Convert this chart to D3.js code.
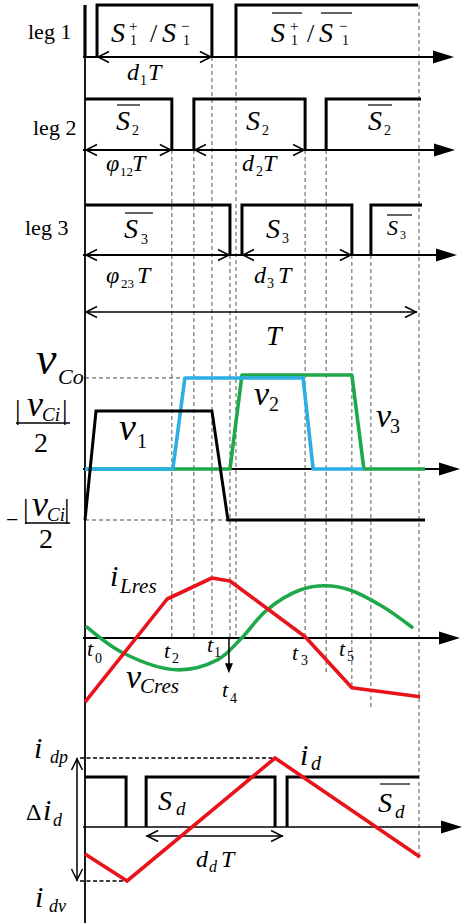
<!DOCTYPE html>
<html><head><meta charset="utf-8">
<script src="https://cdn.jsdelivr.net/npm/d3@7"></script>
<style>html,body{margin:0;padding:0;background:#fff;}svg{display:block;}</style>
</head><body>
<svg id="c" width="464" height="923"></svg>
<script>
// ---------- DATA (time in fractions of the period T) ----------
const leg1Pulses = [[0.036, 0.380], [0.452, 0.997]];
const leg2Pulses = [[0, 0.260], [0.326, 0.659], [0.722, 1.006]];
const leg3Pulses = [[0, 0.434], [0.470, 0.799], [0.856, 1.009]];
const sdPulses   = [[0, 0.123], [0.183, 0.569], [0.605, 1.0]];

// voltages in units of |vCi|/2
const vCoLevel = 1.57;
const v1 = [[0, -1], [0.033, 1], [0.380, 1], [0.428, -1], [1.018, -1]];
const v2 = [[0, 0], [0.263, 0], [0.299, 1.57], [0.653, 1.57], [0.683, 0], [0.835, 0]];
const v3 = [[0, 0], [0.434, 0], [0.470, 1.62], [0.799, 1.62], [0.835, 0], [1.018, 0]];

// resonant current / voltage (normalised)
const iLres = [[0, -1.07], [0.246, 0.65], [0.380, 1.0], [0.434, 0.95], [0.659, 0.02], [0.799, -0.83], [1.003, -0.98]];
const vCres = [[0.006, 0.18], [0.114, -0.25], [0.275, -0.53], [0.395, -0.37], [0.464, -0.03], [0.545, 0.47],
               [0.644, 0.80], [0.719, 0.87], [0.793, 0.80], [0.892, 0.52], [0.979, 0.18]];

// dc inductor current (normalised)
const idWave = [[0, -0.54], [0.126, -1.08], [0.569, 1.38], [1.003, -0.6]];
const idPeak = 1.38, idValley = -1.08;

// switching instants (dashed guides): time, start panel/level, end panel/level
const guides = [
  {t: 0.380, from: ["L1", 0], to: ["I", 0]},
  {t: 0.452, from: ["L1", 0], to: ["I", 0]},
  {t: 1.000, from: ["L1", 1], to: ["D", -0.6]},
  {t: 0.260, from: ["L2", 0], to: ["I", 0]},
  {t: 0.326, from: ["L2", 0], to: ["I", 0]},
  {t: 0.659, from: ["L2", 0], to: ["I", 0]},
  {t: 0.722, from: ["L2", 0], to: ["I", -0.62]},
  {t: 0.434, from: ["L3", 0], to: ["I", 0]},
  {t: 0.799, from: ["L3", 0], to: ["I", -0.83]},
  {t: 0.856, from: ["L3", 0], to: ["I", -1.15]}
];
const t4Time = 0.434, t4Depth = -0.57;

// interval arrows: panel, level, start, end
const spans = [
  {p: "L1", v: 0, a: 0.036, b: 0.380},
  {p: "L2", v: 0, a: 0, b: 0.260},
  {p: "L2", v: 0, a: 0.326, b: 0.659},
  {p: "L3", v: 0, a: 0, b: 0.434},
  {p: "L3", v: 0, a: 0.470, b: 0.799},
  {p: "TT", v: 0, a: 0, b: 0.994},
  {p: "DA", v: 0, a: 0.183, b: 0.593}
];

// ---------- SCALES / LAYOUT ----------
const x = d3.scaleLinear().domain([0, 1]).range([85, 419]);
const Y = {
  L1: d3.scaleLinear().domain([0, 1]).range([57, 5]),
  L2: d3.scaleLinear().domain([0, 1]).range([150, 99]),
  L3: d3.scaleLinear().domain([0, 1]).range([255, 205]),
  V:  d3.scaleLinear().domain([-1, 0, 1]).range([520, 469, 411]),
  I:  d3.scaleLinear().domain([-1, 1]).range([698, 578]),
  D:  d3.scaleLinear().domain([-1, 1]).range([877, 777]),
  TT: d3.scaleLinear().domain([0, 1]).range([312, 262]),
  DA: d3.scaleLinear().domain([0, 1]).range([836, 786])
};
const axisEnds = {L1: 454, L2: 455, L3: 457, V: 460, I: 460, D: 462};

const svg = d3.select("#c");
const serif = "'Liberation Serif','Times New Roman',serif";
const RED = "#e8131b", GREEN = "#1fa84a", BLUE = "#2aaee3";

// dashed guides
svg.append("g").selectAll("line").data(guides).join("line")
  .attr("x1", d => x(d.t)).attr("x2", d => x(d.t))
  .attr("y1", d => Y[d.from[0]](d.from[1])).attr("y2", d => Y[d.to[0]](d.to[1]))
  .attr("stroke", "#444").attr("stroke-width", 0.9).attr("stroke-dasharray", "4,3");

// horizontal dashed references
const hd = svg.append("g").attr("stroke", "#333").attr("stroke-dasharray", "4,3").attr("stroke-width", 0.9);
hd.append("line").attr("x1", x(0)).attr("x2", x(v2[2][0])).attr("y1", Y.V(vCoLevel)).attr("y2", Y.V(vCoLevel));
hd.append("line").attr("x1", x(0)).attr("x2", x(v1[3][0])).attr("y1", Y.V(-1)).attr("y2", Y.V(-1));
const hd2 = svg.append("g").attr("stroke", "#000").attr("stroke-dasharray", "4,2.5").attr("stroke-width", 1.3);
hd2.append("line").attr("x1", 80).attr("x2", x(idWave[2][0])).attr("y1", Y.D(idPeak)).attr("y2", Y.D(idPeak));
hd2.append("line").attr("x1", 80).attr("x2", x(idWave[1][0])).attr("y1", Y.D(idValley)).attr("y2", Y.D(idValley));

// main vertical axis
svg.append("line").attr("x1", 85).attr("x2", 85).attr("y1", 5).attr("y2", 923).attr("stroke", "#000").attr("stroke-width", 1.8);
svg.append("line").attr("x1", 85).attr("x2", 85).attr("y1", Y.L1(1)).attr("y2", Y.L1(0)).attr("stroke", "#000").attr("stroke-width", 3.2);

// horizontal axes with filled arrow heads
Object.entries(axisEnds).forEach(([k, tip]) => {
  const y0 = Y[k](0);
  const w = k === "D" ? 1.3 : 2;
  svg.append("line").attr("x1", 83).attr("x2", tip - 8).attr("y1", y0).attr("y2", y0).attr("stroke", "#000").attr("stroke-width", w);
  svg.append("path").attr("d", `M${tip},${y0} L${tip - 21},${y0 - 6.5} L${tip - 21},${y0 + 6.5} Z`).attr("fill", "#000");
});

// pulse trains
function pulses(pl, ys) {
  let d = "";
  pl.forEach(([a, b]) => {
    const xa = x(a), xb = x(b);
    if (a > 0.01) d += `M${xa},${ys(0)} V${ys(1)}`; else d += `M${xa},${ys(1)}`;
    d += ` H${xb}`;
    if (b < 0.99) d += ` V${ys(0)}`;
    d += " ";
  });
  svg.append("path").attr("d", d).attr("fill", "none").attr("stroke", "#000").attr("stroke-width", 3);
}
pulses(leg1Pulses, Y.L1);
pulses(leg2Pulses, Y.L2);
pulses(leg3Pulses, Y.L3);
pulses(sdPulses, Y.D);

// double-headed interval arrows (open heads)
function chevron(px, py, dx, dy) {
  const L = 11, H = 5.5;
  const bx = px - dx * L, by = py - dy * L;
  svg.append("path").attr("d", `M${bx - dy * H},${by + dx * H} L${px},${py} L${bx + dy * H},${by - dx * H}`)
    .attr("fill", "none").attr("stroke", "#000").attr("stroke-width", 1.5);
}
spans.forEach(s => {
  const y0 = Y[s.p](s.v);
  svg.append("line").attr("x1", x(s.a)).attr("x2", x(s.b)).attr("y1", y0).attr("y2", y0).attr("stroke", "#000").attr("stroke-width", 1.5);
  chevron(x(s.a) + 1, y0, -1, 0);
  chevron(x(s.b) - 1, y0, 1, 0);
});
// delta i_d vertical arrow
svg.append("line").attr("x1", 77).attr("x2", 77).attr("y1", Y.D(idPeak)).attr("y2", Y.D(idValley)).attr("stroke", "#000").attr("stroke-width", 1.5);
chevron(77, Y.D(idPeak) + 1, 0, -1);
chevron(77, Y.D(idValley) - 1, 0, 1);

// voltage waveforms
const lineGen = d3.line().x(d => x(d[0])).y(d => Y.V(d[1]));
svg.append("path").datum(v3).attr("d", lineGen).attr("fill", "none").attr("stroke", GREEN).attr("stroke-width", 3.6).attr("stroke-linejoin", "round");
svg.append("path").datum(v2).attr("d", lineGen).attr("fill", "none").attr("stroke", BLUE).attr("stroke-width", 3.6).attr("stroke-linejoin", "round");
svg.append("path").datum(v1).attr("d", lineGen).attr("fill", "none").attr("stroke", "#000").attr("stroke-width", 3);

// resonant waveforms
svg.append("path").datum(vCres).attr("d", d3.line().curve(d3.curveCatmullRom).x(d => x(d[0])).y(d => Y.I(d[1])))
  .attr("fill", "none").attr("stroke", GREEN).attr("stroke-width", 3.6).attr("stroke-linecap", "round");
svg.append("path").datum(iLres).attr("d", d3.line().x(d => x(d[0])).y(d => Y.I(d[1])))
  .attr("fill", "none").attr("stroke", RED).attr("stroke-width", 3.6).attr("stroke-linejoin", "round");

// t4 arrow
svg.append("line").attr("x1", x(t4Time) - 1).attr("x2", x(t4Time) - 1).attr("y1", Y.I(0)).attr("y2", Y.I(t4Depth) - 6)
  .attr("stroke", "#000").attr("stroke-width", 1.5);
{
  const ax = x(t4Time) - 1, ay = Y.I(t4Depth);
  svg.append("path").attr("d", `M${ax},${ay + 1} L${ax - 4},${ay - 9} L${ax + 4},${ay - 9} Z`).attr("fill", "#000");
}

// dc current
svg.append("path").datum(idWave).attr("d", d3.line().x(d => x(d[0])).y(d => Y.D(d[1])))
  .attr("fill", "none").attr("stroke", RED).attr("stroke-width", 3.6).attr("stroke-linejoin", "miter");

// ---------- TEXT ----------
function txt(px, py, s, size, it) {
  svg.append("text").attr("x", px).attr("y", py).attr("font-family", serif).attr("font-size", size)
    .attr("font-style", it ? "italic" : "normal").attr("fill", "#000").text(s);
}
function over(x1, x2, py) {
  svg.append("line").attr("x1", x1).attr("x2", x2).attr("y1", py).attr("y2", py).attr("stroke", "#000").attr("stroke-width", 1.2);
}
function frac(px, py, w) {
  svg.append("line").attr("x1", px).attr("x2", px + w).attr("y1", py).attr("y2", py).attr("stroke", "#000").attr("stroke-width", 1.3);
}

// leg labels
txt(28, 39, "leg 1", 22);
txt(33, 135, "leg 2", 22);
txt(25, 235, "leg 3", 22);

// leg 1 switch labels
txt(111, 42, "S", 28, true); txt(129, 31, "+", 15); txt(130, 45, "1", 14);
txt(150, 42, "/", 26);
txt(162, 42, "S", 28, true); txt(181, 31, "\u2212", 15); txt(183, 45, "1", 14);
txt(271, 42, "S", 28, true); txt(290, 31, "+", 15); txt(291, 45, "1", 14);
txt(307, 42, "/", 26);
txt(319, 42, "S", 28, true); txt(339, 31, "\u2212", 15); txt(342, 45, "1", 14);
over(272, 302, 13); over(321, 352, 13);
txt(127, 80, "d", 24, true); txt(140, 85, "1", 14); txt(148, 80, "T", 24, true);

// leg 2
txt(116, 130, "S", 28, true); txt(132, 135, "2", 14); over(117, 140, 105);
txt(246, 130, "S", 28, true); txt(262, 135, "2", 14);
txt(368, 130, "S", 28, true); txt(384, 135, "2", 14); over(368, 392, 105);
txt(106, 171, "\u03c6", 24, true); txt(120, 176, "12", 13); txt(132, 171, "T", 24, true);
txt(242, 171, "d", 24, true); txt(256, 176, "2", 14); txt(263, 171, "T", 24, true);

// leg 3
txt(124, 238, "S", 28, true); txt(141, 244, "3", 14); over(125, 153, 213);
txt(266, 238, "S", 28, true); txt(282, 243, "3", 14);
txt(387, 235, "S", 22, true); txt(400, 239, "3", 12); over(387, 412, 215);
txt(106, 283, "\u03c6", 24, true); txt(121, 288, "23", 13); txt(137, 283, "T", 24, true);
txt(254, 283, "d", 24, true); txt(267, 288, "3", 14); txt(278, 283, "T", 24, true);
txt(266, 345, "T", 28, true);

// voltage labels
txt(36, 374, "v", 46, true); txt(58, 384, "Co", 22, true);
txt(15, 419, "|", 28); txt(27, 416, "v", 36, true); txt(42, 421, "Ci", 19, true); txt(62, 419, "|", 28);
frac(16, 423, 54); txt(34, 452, "2", 28);
txt(6, 527, "\u2212", 22);
txt(23, 518, "|", 28); txt(32, 516, "v", 36, true); txt(47, 521, "Ci", 19, true); txt(64, 518, "|", 28);
frac(25, 523, 45); txt(39, 548, "2", 28);
txt(119, 440, "v", 38, true); txt(137, 448, "1", 20);
txt(254, 405, "v", 34, true); txt(269, 411, "2", 20);
txt(376, 427, "v", 34, true); txt(390, 433, "3", 20);

// resonant labels
txt(110, 586, "i", 30, true); txt(120, 593, "Lres", 21, true);
txt(126, 688, "v", 34, true); txt(140, 693, "Cres", 21, true);
txt(87, 656, "t", 22, true); txt(95, 663, "0", 14);
txt(164, 658, "t", 22, true); txt(172, 663, "2", 14);
txt(207, 652, "t", 22, true); txt(214, 657, "1", 14);
txt(222, 697, "t", 22, true); txt(230, 703, "4", 14);
txt(292, 660, "t", 22, true); txt(301, 665, "3", 14);
txt(339, 656, "t", 22, true); txt(347, 661, "5", 14);

// dc labels
txt(34, 758, "i", 30, true); txt(50, 763, "dp", 18, true);
txt(26, 820, "\u0394", 24); txt(43, 820, "i", 30, true); txt(53, 826, "d", 18, true);
txt(35, 907, "i", 30, true); txt(49, 912, "dv", 18, true);
txt(300, 765, "i", 30, true); txt(311, 770, "d", 20, true);
txt(158, 810, "S", 28, true); txt(176, 815, "d", 19, true);
txt(378, 812, "S", 28, true); txt(395, 818, "d", 19, true); over(380, 410, 784);
txt(196, 867, "d", 24, true); txt(209, 872, "d", 16, true); txt(221, 867, "T", 24, true);
</script>
</body></html>
